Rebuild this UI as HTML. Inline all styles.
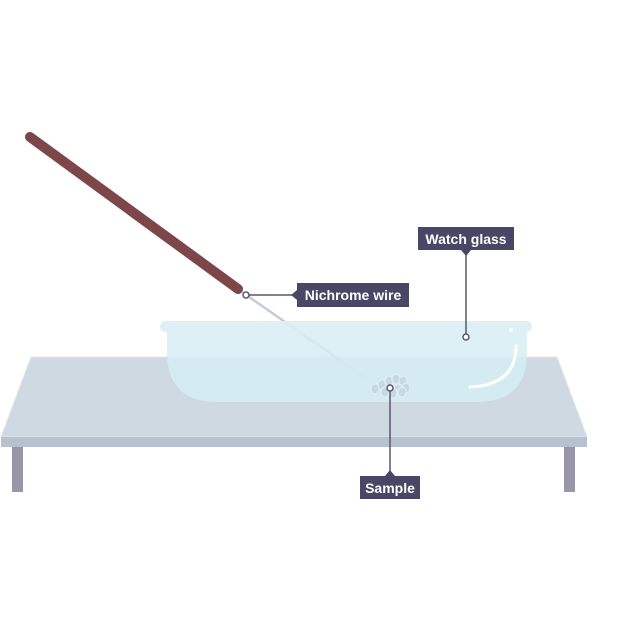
<!DOCTYPE html>
<html><head><style>
body{margin:0;background:#fff;}
svg{display:block}
text{font-family:"Liberation Sans",sans-serif;font-weight:bold;font-size:14px;fill:#fff}
</style></head><body>
<svg width="624" height="624" viewBox="0 0 624 624">
<rect width="624" height="624" fill="#fff"/>
<!-- legs -->
<rect x="12" y="446" width="11" height="46" fill="#9996a8"/>
<rect x="564" y="446" width="11" height="46" fill="#9996a8"/>
<!-- table -->
<polygon points="31,357 557,357 587,437 1,437" fill="#ced9e2" stroke="#dfe6ec" stroke-width="1"/>
<rect x="1" y="437" width="586" height="10" fill="#b8c1d0"/>
<!-- rod -->
<line x1="30" y1="137" x2="238" y2="289" stroke="#7d4648" stroke-width="10" stroke-linecap="round"/>
<!-- wire -->
<line x1="242" y1="292" x2="380" y2="388" stroke="#c3ccd8" stroke-width="2.5"/>
<!-- watch glass -->
<path d="M167,330 L527,330 L527,352 Q527,402 477,402 L217,402 Q167,402 167,352 Z" fill="#d6edf4" fill-opacity="0.85"/>
<rect x="160" y="321" width="372" height="11" rx="5" fill="#daeef4" fill-opacity="0.9"/>
<path d="M516,346 Q516,385 470,387" fill="none" stroke="#fff" stroke-width="3" stroke-linecap="round"/>
<circle cx="511" cy="330" r="2" fill="#fff"/>
<!-- sample -->
<g fill="#c5dbe3" stroke="#e4eff3" stroke-width="1">
<ellipse cx="375" cy="389" rx="4" ry="5"/><ellipse cx="382" cy="385" rx="4" ry="5"/>
<ellipse cx="389" cy="381" rx="4" ry="5"/><ellipse cx="396" cy="379" rx="4" ry="5"/>
<ellipse cx="403" cy="381" rx="4" ry="5"/><ellipse cx="406" cy="388" rx="4" ry="5"/>
<ellipse cx="398" cy="389" rx="4" ry="5"/><ellipse cx="385" cy="392" rx="4" ry="5"/>
<ellipse cx="393" cy="393" rx="4" ry="5"/><ellipse cx="402" cy="392" rx="4" ry="5"/>
</g>
<!-- callouts -->
<g stroke="#5a5670" stroke-width="1.5" fill="none">
<line x1="466" y1="250" x2="466" y2="334"/>
<line x1="249" y1="295" x2="297" y2="295"/>
<line x1="390" y1="391" x2="390" y2="472"/>
</g>
<g fill="#fff" stroke="#5a5670" stroke-width="1.5">
<circle cx="466" cy="337" r="3"/><circle cx="246" cy="295" r="3"/><circle cx="390" cy="388" r="3"/>
</g>
<g fill="#4a4665">
<rect x="418" y="227" width="96" height="23"/><polygon points="461,250 471,250 466,256"/>
<rect x="297" y="283" width="112" height="24"/><polygon points="297,290 297,300 291,295"/>
<rect x="360" y="476" width="60" height="23"/><polygon points="385,476 395,476 390,470"/>
</g>
<text x="466" y="244" text-anchor="middle">Watch glass</text>
<text x="353" y="300" text-anchor="middle">Nichrome wire</text>
<text x="390" y="493" text-anchor="middle">Sample</text>
</svg>
</body></html>
